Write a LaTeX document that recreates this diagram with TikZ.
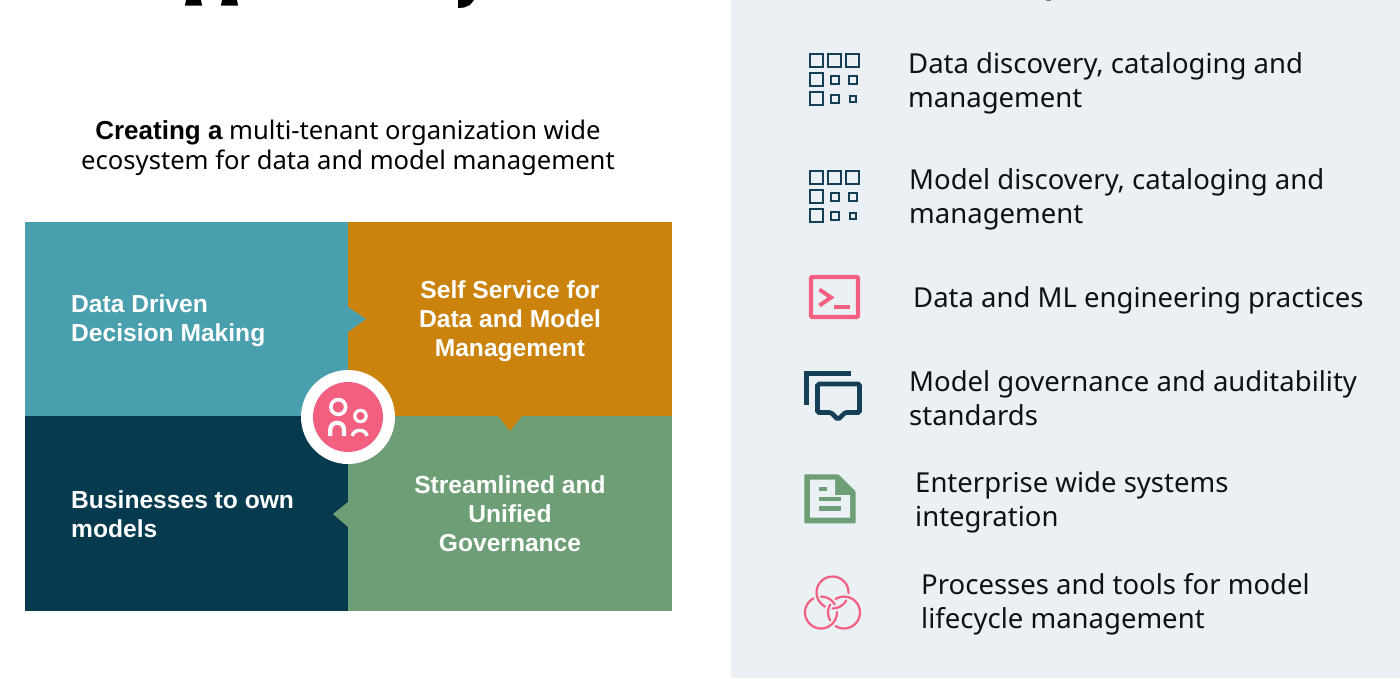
\documentclass[tikz,border=0pt]{standalone}
\usepackage{fontspec}
\setmainfont{Noto Sans}
\newfontfamily\heavyfont{Liberation Sans}[BoldFont={Liberation Sans Bold}]
\definecolor{tealc}{HTML}{4A9FAE}
\definecolor{orangec}{HTML}{CB830D}
\definecolor{darkc}{HTML}{053A4F}
\definecolor{greenc}{HTML}{6D9E76}
\definecolor{pinkc}{HTML}{F25F7F}
\definecolor{panelc}{HTML}{EAF0F4}
\definecolor{iconblue}{HTML}{143F56}
\definecolor{textc}{HTML}{0C1216}
\tikzset{
 x=1pt,y=-1pt,
 item/.style={anchor=west,align=left,inner sep=0pt,text=textc,font=\fontsize{27.5}{34}\selectfont},
 tile/.style={align=center,inner sep=0pt,text=white,font=\fontsize{24.6}{29}\selectfont\heavyfont\bfseries},
 tileL/.style={align=left,anchor=west,inner sep=0pt,text=white,font=\fontsize{24.6}{29}\selectfont\heavyfont\bfseries},
 cell/.style={draw=iconblue,line width=2pt,fill=none},
 lead/.style={align=center,inner sep=0pt,text=black,font=\fontsize{25.6}{30}\selectfont},
}
\newcommand{\gridicon}[2]{%
 \begin{scope}[shift={(#1,#2)}]
 \foreach \a/\b in {0/0,18/0,36/0,0/19,0/38}{\draw[cell] (\a+1,\b+1) rectangle (\a+14,\b+14);}
 \draw[cell] (22,23) rectangle (30,31);
 \draw[cell] (40,23) rectangle (48,31);
 \draw[cell] (22,42) rectangle (30,50);
 \draw[cell] (41,43) rectangle (47,49);
 \end{scope}}
\newcommand{\ringarc}[4]{\draw (#1,#2) ++(#3:16) arc[start angle=#3,end angle=#4,radius=16];}
\begin{document}
\begin{tikzpicture}
\useasboundingbox (0,0) rectangle (1400,678);
\fill[white] (0,0) rectangle (1400,678);
\fill[panelc] (731,0) rectangle (1400,678);
% cropped heading remnants
\fill[black] (186,0) -- (201,0) -- (202,5.5) -- (185,5.5) -- cycle;
\fill[black] (222,0) -- (237,0) -- (238,5.5) -- (221,5.5) -- cycle;
\fill[black] (458,0) -- (474,0) -- (470,5) -- (464,7.5) -- (458,8) -- cycle;
\fill[gray] (1046,0) rectangle (1051,1.2);
\node[lead] (lead) at (348,148) {{\fontsize{26}{30}\selectfont\heavyfont\bfseries Creating a} multi-tenant organization wide\\ecosystem for data and model management};
% tiles
\fill[tealc] (25,222) rectangle (348,416);
\fill[orangec] (348,222) rectangle (672,416);
\fill[darkc] (25,416) rectangle (348,611);
\fill[greenc] (348,416) rectangle (672,611);
\fill[tealc] (348,307) -- (366,319) -- (348,332) -- cycle;
\fill[orangec] (498,416) -- (510,431) -- (522,416) -- cycle;
\fill[greenc] (348,502) -- (333,514) -- (348,527) -- cycle;
\node[tileL] (t1) at (71,321) {Data Driven\\Decision Making};
\node[tile] (t2) at (510,321.5) {Self Service for\\Data and Model\\Management};
\node[tileL] (t3) at (71,514) {Businesses to own\\models};
\node[tile] (t4) at (510,513.5) {Streamlined and\\Unified\\Governance};
% centre
\fill[white] (348,417) circle[radius=47];
\fill[pinkc] (348,417) circle[radius=35];
\begin{scope}[draw=white,line cap=butt]
\draw[line width=3.6pt] (338.3,407) circle[radius=7.4];
\draw[line width=3.2pt] (360.5,416) circle[radius=5.7];
\draw[line width=4.2pt] (330.3,436) -- (330.3,429.6) .. controls (330.3,420.5) and (344,420.5) .. (344,429.6) -- (344,436);
\draw[line width=3.4pt] (352.3,436) .. controls (353.5,428.5) and (366,428.5) .. (367,436);
\end{scope}
% right list
\node[item] (i1) at (908,83) {Data discovery, cataloging and\\management};
\node[item] (i2) at (909,199) {Model discovery, cataloging and\\management};
\node[item] (i3) at (913,300) {Data and ML engineering practices};
\node[item] (i4) at (909,398) {Model governance and auditability\\standards};
\node[item] (i5) at (915,502) {Enterprise wide systems\\integration};
\node[item] (i6) at (921,604) {Processes and tools for model\\lifecycle management};
% icons
\gridicon{808.5}{52.5}
\gridicon{808.5}{169.5}
\draw[pinkc,line width=4.2pt,rounded corners=1pt] (811,277) rectangle (858,317);
\draw[pinkc,line width=4pt] (819.5,289.5) -- (831,297.5) -- (819.5,305.5);
\draw[pinkc,line width=4.2pt] (834,306.7) -- (850,306.7);
\draw[iconblue,line width=4.6pt] (806.5,405) -- (806.5,373.7) -- (851,373.7);
\draw[iconblue,line width=4.6pt,rounded corners=1.5pt] (817.5,384) -- (859.5,384) -- (859.5,412.5) -- (845,412.5) -- (838,419.5) -- (831,412.5) -- (817.5,412.5) -- cycle;
\fill[greenc,rounded corners=1pt] (804.3,474.3) -- (838.3,474.3) -- (855.7,491.7) -- (855.7,523.3) -- (804.3,523.3) -- cycle;
\fill[panelc] (810,479.5) -- (835,479.5) -- (835,495) -- (850,495) -- (850,517.5) -- (810,517.5) -- cycle;
\fill[greenc] (818.7,486.7) rectangle (827.3,491.3);
\fill[greenc] (818.7,496.7) rectangle (841.3,501);
\fill[greenc] (818.7,506) rectangle (841.3,510.7);
\begin{scope}[shift={(832.5,612.5)},y=1pt,draw=pinkc,line width=2.2pt,line cap=round]
\ringarc{-11.5}{0}{118}{362}
\ringarc{-11.5}{0}{30}{90}
\ringarc{11.5}{0}{238}{482}
\ringarc{11.5}{0}{150}{210}
\ringarc{0}{20}{270}{330}
\ringarc{0}{20}{358}{602}
\end{scope}
\end{tikzpicture}
\end{document}
